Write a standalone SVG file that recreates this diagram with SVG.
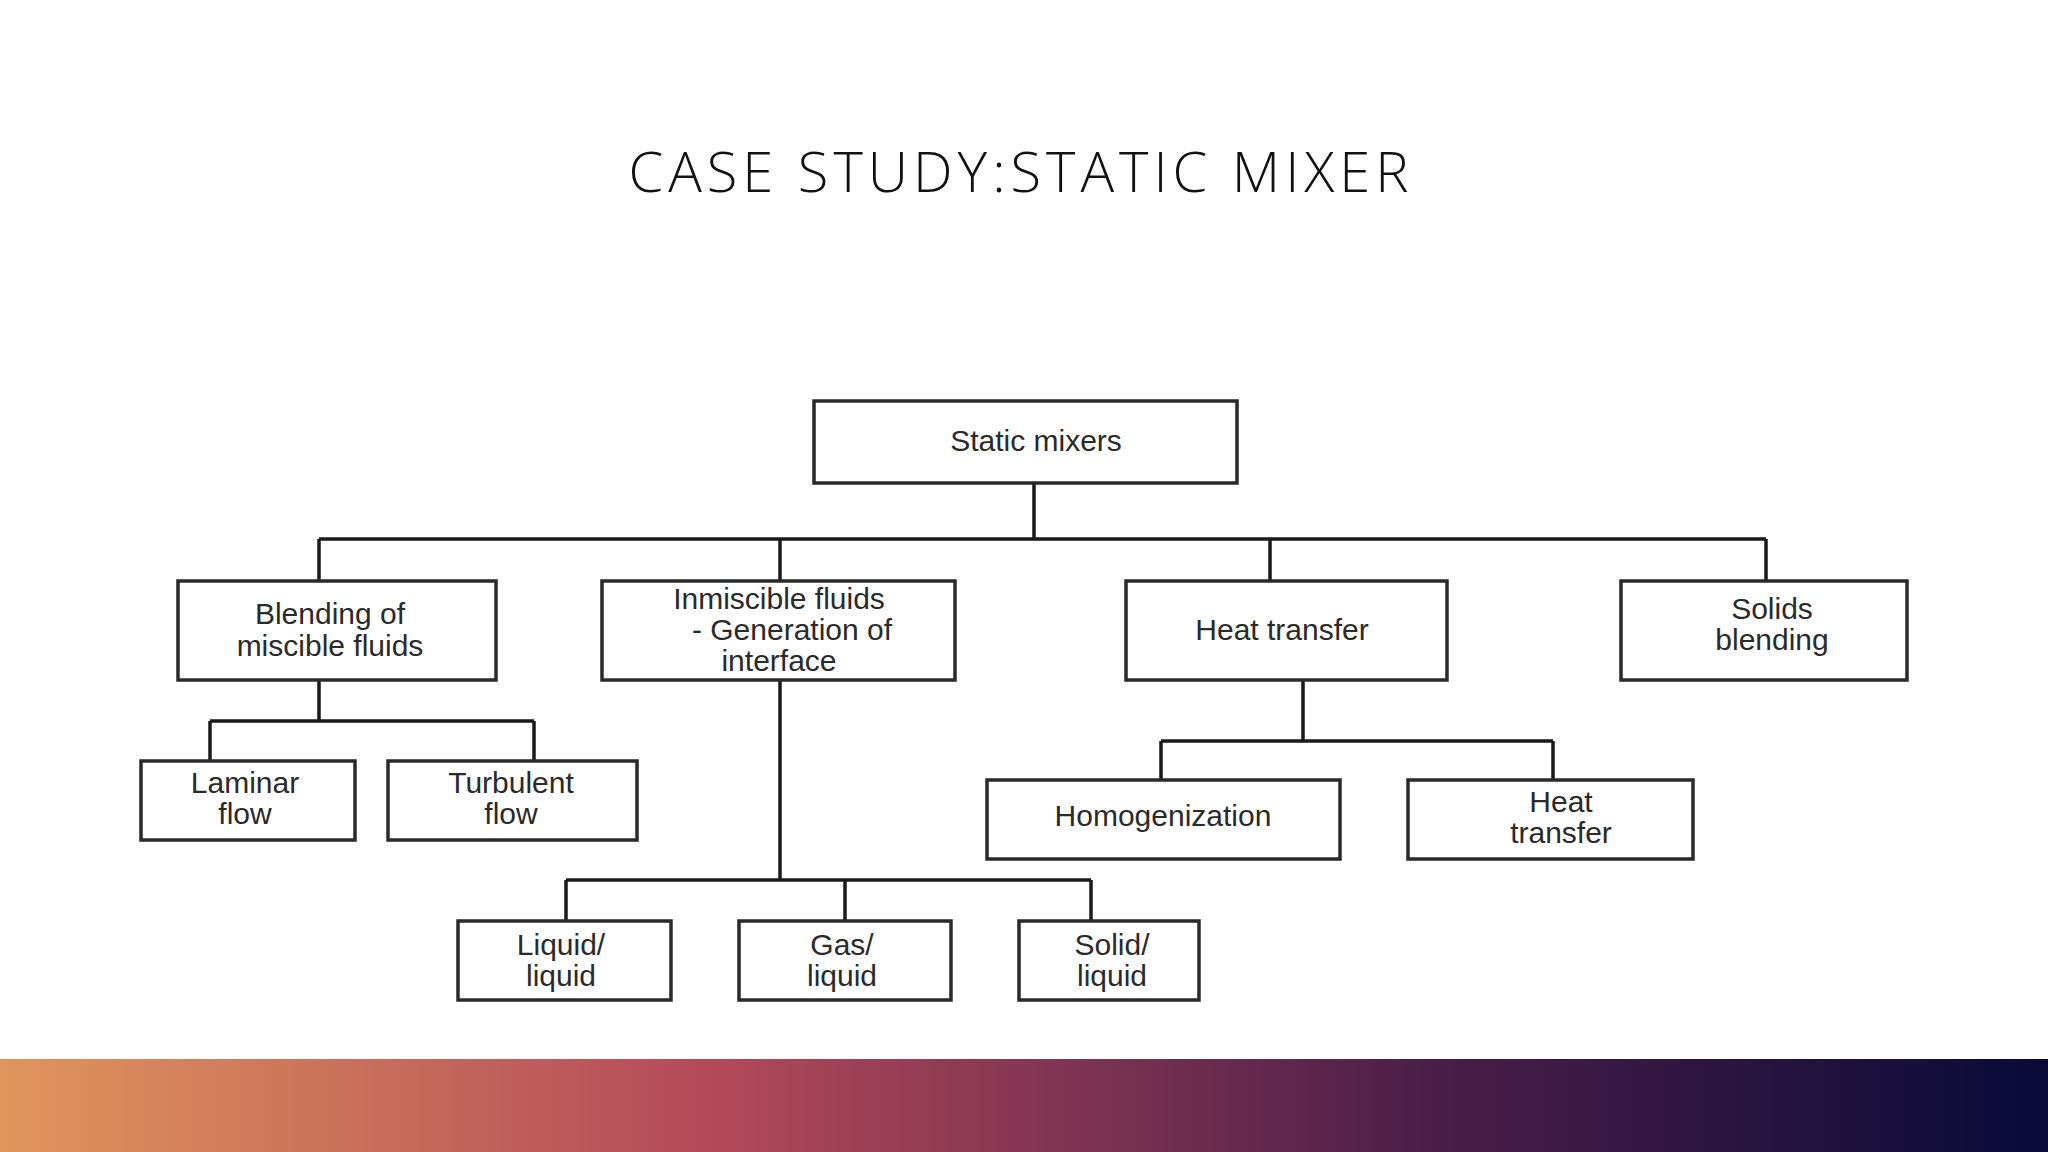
<svg xmlns="http://www.w3.org/2000/svg" width="2048" height="1152" viewBox="0 0 2048 1152">
<defs>
<linearGradient id="g" x1="0" x2="1" y1="0" y2="0">
<stop offset="0" stop-color="#e0955c"/>
<stop offset="0.35" stop-color="#b2495a"/>
<stop offset="0.7" stop-color="#4a1e48"/>
<stop offset="1" stop-color="#080a38"/>
</linearGradient>
<style>
rect.b{fill:#fff;stroke:#2a2a2a;stroke-width:3.5}
text.t{font-family:"Liberation Sans",Arial,sans-serif;font-size:30px;fill:#2a2a2a;text-anchor:middle}
#conn path{fill:none;stroke:#1a1a1a;stroke-width:3.5}
</style>
</defs>
<rect width="2048" height="1152" fill="#fff"/>
<text x="1021" y="192" font-family="Open Sans, Liberation Sans, sans-serif" font-size="56" font-weight="300" letter-spacing="5" text-anchor="middle" fill="#111">CASE STUDY:STATIC MIXER</text>
<g id="conn">
<path d="M1034 483V539M319 539H1766M319 539V581M780 539V581M1270 539V581M1766 539V581"/>
<path d="M319 680V721M210 721H534M210 721V761M534 721V761"/>
<path d="M780 680V880M566 880H1091M566 880V921M845 880V921M1091 880V921"/>
<path d="M1303 680V741M1161 741H1553M1161 741V780M1553 741V780"/>
</g>
<g id="n0"><rect class="b" x="814" y="401" width="423" height="82"/><text class="t" x="1036" y="451">Static mixers</text></g>
<g id="n1"><rect class="b" x="178" y="581" width="318" height="99"/><text class="t" x="330" y="624">Blending of</text><text class="t" x="330" y="656">miscible fluids</text></g>
<g id="n2"><rect class="b" x="602" y="581" width="353" height="99"/><text class="t" x="779" y="609">Inmiscible fluids</text><text class="t" x="792" y="640">- Generation of</text><text class="t" x="779" y="671">interface</text></g>
<g id="n3"><rect class="b" x="1126" y="581" width="321" height="99"/><text class="t" x="1282" y="640">Heat transfer</text></g>
<g id="n4"><rect class="b" x="1621" y="581" width="286" height="99"/><text class="t" x="1772" y="619">Solids</text><text class="t" x="1772" y="650">blending</text></g>
<g id="n5"><rect class="b" x="141" y="761" width="214" height="79"/><text class="t" x="245" y="793">Laminar</text><text class="t" x="245" y="824">flow</text></g>
<g id="n6"><rect class="b" x="388" y="761" width="249" height="79"/><text class="t" x="511" y="793">Turbulent</text><text class="t" x="511" y="824">flow</text></g>
<g id="n7"><rect class="b" x="987" y="780" width="353" height="79"/><text class="t" x="1163" y="826">Homogenization</text></g>
<g id="n8"><rect class="b" x="1408" y="780" width="285" height="79"/><text class="t" x="1561" y="812">Heat</text><text class="t" x="1561" y="843">transfer</text></g>
<g id="n9"><rect class="b" x="458" y="921" width="213" height="79"/><text class="t" x="561" y="955">Liquid/</text><text class="t" x="561" y="986">liquid</text></g>
<g id="n10"><rect class="b" x="739" y="921" width="212" height="79"/><text class="t" x="842" y="955">Gas/</text><text class="t" x="842" y="986">liquid</text></g>
<g id="n11"><rect class="b" x="1019" y="921" width="180" height="79"/><text class="t" x="1112" y="955">Solid/</text><text class="t" x="1112" y="986">liquid</text></g>
<rect x="0" y="1059" width="2048" height="93" fill="url(#g)"/>
</svg>
